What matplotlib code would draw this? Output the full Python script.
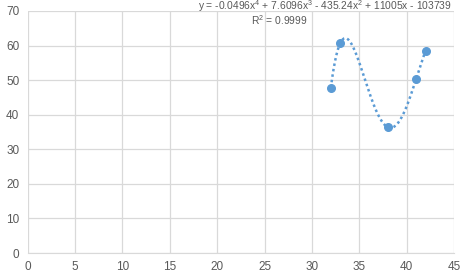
import numpy as np
import matplotlib.pyplot as plt

x_vals = [32, 33, 38, 41, 42]
y_vals = [47.8, 60.7, 36.4, 50.3, 58.4]
eq_text = "y = -0.0496x$^4$ + 7.6096x$^3$ - 435.24x$^2$ + 11005x - 103739"
r2_text = "R$^2$ = 0.9999"

color = "#5b9bd5"
grid_color = "#d9d9d9"
text_color = "#595959"

plt.rcParams['font.family'] = ['Liberation Sans', 'DejaVu Sans']
plt.rcParams['mathtext.fontset'] = 'custom'
plt.rcParams['mathtext.rm'] = 'Liberation Sans'

fig = plt.figure(figsize=(4.69, 2.8), dpi=100)
ax = fig.add_axes([0.059, 0.0964, 0.909, 0.8646])

# trendline (4th order poly)
coef = np.polyfit(x_vals, y_vals, 4)
xs = np.linspace(min(x_vals), max(x_vals), 200)
ax.plot(xs, np.polyval(coef, xs), color=color, linestyle=(0, (1, 1.2)), linewidth=1.8, zorder=2)

ax.scatter(x_vals, y_vals, s=30, color=color, zorder=3)

ax.set_xlim(0, 45)
ax.set_ylim(0, 70)
ax.set_xticks(range(0, 46, 5))
ax.set_yticks(range(0, 71, 10))
ax.grid(True, color=grid_color, linewidth=0.9)
ax.set_axisbelow(True)
for s in ['top', 'right', 'left']:
    ax.spines[s].set_visible(False)
ax.spines['bottom'].set_color(grid_color)
ax.tick_params(length=0, labelsize=8.5, colors=text_color, pad=6)

ax.text(31.4, 71.3, eq_text, ha='center', va='center', fontsize=7.4, color=text_color, clip_on=False)
ax.text(26.6, 67.4, r2_text, ha='center', va='center', fontsize=7.4, color=text_color, clip_on=False)

fig.savefig("out.png", dpi=100)
